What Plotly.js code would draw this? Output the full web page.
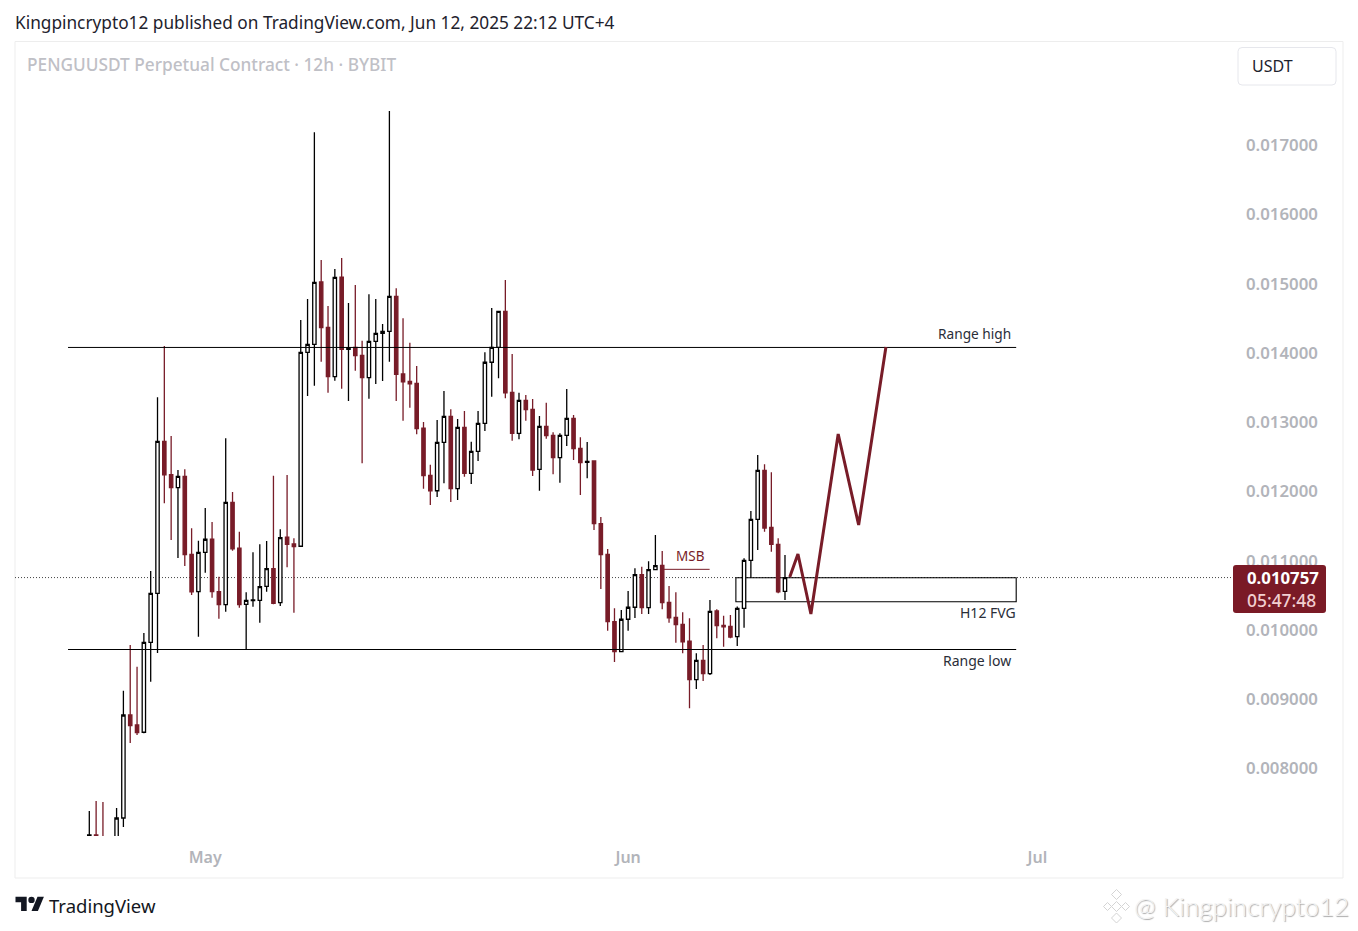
<!DOCTYPE html>
<html>
<head>
<meta charset="utf-8">
<script src="https://cdn.plot.ly/plotly-3.0.1.min.js"></script>
<style>html,body{margin:0;padding:0;background:#fff}#chart{width:1358px;height:931px}</style>
</head>
<body>
<div id="chart"></div>
<script>
// prices x 1e6, one entry per 12h bar
const opens = [6895,7040,6939,6900,6895,7285,8772,8628,8523,9822,10530,12725,12242,12055,12219,11093,10553,11122,11310,10553,10365,11844,11180,10371,10423,10429,10631,10885,10394,11339,11242,11209,14010,14125,15025,14371,13658,15097,14053,14082,13967,13643,14169,14284,14313,14819,13697,13591,13562,12913,12234,12011,12710,13086,12040,12927,12263,12580,12985,13866,14082,14602,13432,12840,13317,13187,12320,12941,12811,12488,12811,13057,12624,12421,12440,11535,11093,10120,9687,10155,10328,10799,10322,10871,10934,10400,10183,10082,9837,9282,9562,9369,10274,10067,10053,9903,10313,11006,11598,12306,11483,11237,10559];
const highs = [7386,7531,7516,6980,7429,9123,9783,9470,9957,10852,13360,14101,12801,12310,12320,11468,11289,11762,11559,10770,12768,11993,11419,10544,11122,11237,11285,12228,11454,12238,11324,14476,14779,17187,15343,14678,15213,15372,14722,14982,14177,14847,14779,14418,17494,14934,14501,14149,13812,13003,12387,13032,13451,13187,13047,13162,12719,13162,14010,14649,14610,15054,13985,13426,13393,13336,13090,13282,12855,12840,13480,13104,12782,12715,12440,11632,11170,10313,10289,10563,10891,10914,10992,11372,11141,10635,10544,10255,10169,9663,9783,10433,10299,10206,10217,10340,11035,11718,12527,12393,12277,11324,11083];
const lows = [6895,6895,6850,6800,6850,7155,8368,8484,8510,9253,9668,11829,11299,11040,10924,10505,9903,10827,10466,10163,10264,11145,10322,9718,10337,10105,10553,10371,10347,10905,10250,11200,13379,13528,13874,13426,13600,13484,13307,13744,12407,13340,13552,13595,13874,13307,13022,13210,12826,12040,11805,11920,12118,11848,11877,12214,12108,12440,12873,13369,13634,13345,12733,12754,13022,12224,12011,12762,12248,12127,12657,12455,11949,12190,11444,10592,9990,9538,9680,9990,10173,10231,10231,10866,10299,10105,9817,9663,8869,9148,9263,9350,9880,9759,9880,9769,10033,10755,11155,11419,11131,10530,10433];
const closes = [7040,6895,6850,6950,7285,8772,8618,8517,9822,10530,12725,12242,12055,12219,11087,10549,11122,11310,10553,10365,11844,11170,10365,10429,10433,10625,10885,10385,11333,11237,11203,14010,14125,15021,14365,13658,15093,14053,14076,13961,13643,14169,14284,14313,14819,13692,13585,13556,12907,12228,12011,12710,13086,12040,12927,12263,12580,12985,13866,14082,14602,13426,12840,13317,13181,12310,12941,12806,12488,12811,13057,12618,12416,12436,11535,11087,10120,9687,10155,10328,10799,10322,10871,10929,10394,10177,10076,9827,9282,9562,9369,10270,10062,10047,9899,10313,11006,11598,12306,11473,11237,10549,10757];

// analyst drawings, bar position + price x 1e6
const rangeHigh = 14080, rangeLow = 9718, lastPrice = 10757;
const levelBars = [-3.12, 135.9];
const msbBars = [83.8, 90.95], msbPrice = 10876;
const fvgBars = [94.8, 135.9], fvgTop = 10755, fvgBottom = 10408;
const pathBars = [102.7, 103.9, 105.8, 109.8, 112.8, 116.8];
const pathPrices = [10765, 11097, 10231, 12830, 11516, 14086];
const priceTicks = [8000,9000,10000,11000,12000,13000,14000,15000,16000,17000];
const priceLabels = ['0.008000','0.009000','0.010000','0.011000','0.012000','0.013000','0.014000','0.015000','0.016000','0.017000'];
const monthDates = ['2025-05-01','2025-06-01','2025-07-01'];
const monthLabels = ['May','Jun','Jul'];

const MAROON = '#781c28', W = 1358, H = 931;
const firstBar = Date.UTC(2025, 3, 22, 12);
const at = i => new Date(firstBar + i * 43200000).toISOString().slice(0, 19).replace('T', ' ');
const unit = v => v / 1e6;
const fx = p => p / W, fy = p => 1 - p / H;

const barDates = opens.map((_, i) => at(i));
const traces = [
  {type:'candlestick', x:barDates, open:opens.map(unit), high:highs.map(unit), low:lows.map(unit), close:closes.map(unit),
   increasing:{line:{color:'#000000',width:1.3},fillcolor:'#ffffff'},
   decreasing:{line:{color:MAROON,width:1.3},fillcolor:MAROON},
   whiskerwidth:0, hoverinfo:'skip', showlegend:false},
  {type:'scatter', mode:'lines', x:levelBars.map(at), y:[rangeHigh,rangeHigh].map(unit), line:{color:'#000',width:1}, hoverinfo:'skip', showlegend:false},
  {type:'scatter', mode:'lines', x:levelBars.map(at), y:[rangeLow,rangeLow].map(unit), line:{color:'#000',width:1}, hoverinfo:'skip', showlegend:false},
  {type:'scatter', mode:'lines', x:msbBars.map(at), y:[msbPrice,msbPrice].map(unit), line:{color:MAROON,width:1}, hoverinfo:'skip', showlegend:false},
  {type:'scatter', mode:'lines', x:pathBars.map(at), y:pathPrices.map(unit), line:{color:MAROON,width:3}, hoverinfo:'skip', showlegend:false}
];

const GREY = '#b2b4ba';
const ann = (text, x, y, anchor, font) => ({text, x:fx(x), y:fy(y), xref:'paper', yref:'paper', xanchor:anchor, yanchor:'middle', showarrow:false, font, borderpad:0, borderwidth:0});
const UI = '"Noto Sans", sans-serif';

const roundRect = (x0,y0,x1,y1,r) => {
  const P=(x,y)=>fx(x)+','+fy(y);
  return 'M'+P(x0+r,y0)+' L'+P(x1-r,y0)+' Q'+P(x1,y0)+' '+P(x1,y0+r)+' L'+P(x1,y1-r)+' Q'+P(x1,y1)+' '+P(x1-r,y1)+' L'+P(x0+r,y1)+' Q'+P(x0,y1)+' '+P(x0,y1-r)+' L'+P(x0,y0+r)+' Q'+P(x0,y0)+' '+P(x0+r,y0)+' Z';
};
const polyPath = pts => 'M' + pts.map(([x,y]) => fx(x)+','+fy(y)).join(' L') + ' Z';
const diamond = (cx,cy,r) => polyPath([[cx,cy-r],[cx+r,cy],[cx,cy+r],[cx-r,cy]]);
const paperShape = (o) => Object.assign({xref:'paper', yref:'paper', layer:'above'}, o);
const LX = 15.5, LY = 893.5, LS = 0.8;
const logoPt = (x,y)=>[LX+x*LS, LY+y*LS];

const shapes = [
  paperShape({type:'rect', x0:fx(15), x1:fx(1343), y0:fy(41.5), y1:fy(878), line:{color:'#ededed',width:1}, fillcolor:'rgba(0,0,0,0)', layer:'below'}),
  {type:'line', xref:'paper', yref:'y', x0:fx(15), x1:fx(1235), y0:unit(lastPrice), y1:unit(lastPrice), line:{color:'#444',width:1,dash:'1px,2px'}, layer:'below'},
  {type:'rect', xref:'x', yref:'y', x0:at(fvgBars[0]), x1:at(fvgBars[1]), y0:unit(fvgBottom), y1:unit(fvgTop), line:{color:'#000',width:1.1}, fillcolor:'rgba(0,0,0,0)', layer:'below'},
  paperShape({type:'path', path:roundRect(1238,47.5,1336,85,4), line:{color:'#e6e7ec',width:1}, fillcolor:'#fff'}),
  paperShape({type:'path', path:roundRect(1233,565,1326,613,3), line:{width:0}, fillcolor:'#7a1a26'}),
  paperShape({type:'path', path:polyPath([[14,4],[14,22],[7,22],[7,11],[0,11],[0,4]].map(p=>logoPt(...p))), line:{width:0}, fillcolor:'#131722'}),
  paperShape({type:'path', path:polyPath([[27.5,4],[35.5,4],[28,22],[20,22]].map(p=>logoPt(...p))), line:{width:0}, fillcolor:'#131722'}),
  paperShape({type:'circle', x0:fx(logoPt(16,4)[0]), x1:fx(logoPt(24,4)[0]), y0:fy(logoPt(0,4)[1]), y1:fy(logoPt(0,12)[1]), line:{width:0}, fillcolor:'#131722'}),
  paperShape({type:'path', path:diamond(1116.5,894.5,5), line:{color:'#d4d4d4',width:1}, fillcolor:'#fff'}),
  paperShape({type:'path', path:diamond(1116.5,906.5,5), line:{color:'#d4d4d4',width:1}, fillcolor:'#fff'}),
  paperShape({type:'path', path:diamond(1116.5,918,5), line:{color:'#d4d4d4',width:1}, fillcolor:'#fff'}),
  paperShape({type:'path', path:diamond(1107.5,906.5,4), line:{color:'#d4d4d4',width:1}, fillcolor:'#fff'}),
  paperShape({type:'path', path:diamond(1125.5,906.5,4), line:{color:'#d4d4d4',width:1}, fillcolor:'#fff'})
];

const annotations = [
  ann('Kingpincrypto12 published on TradingView.com, Jun 12, 2025 22:12 UTC+4', 15, 22, 'left', {family:UI,size:17.25,color:'#1e222d'}),
  ann('PENGUUSDT Perpetual Contract · 12h · BYBIT', 27, 64, 'left', {family:UI,size:17.25,color:'#bfc0c6',weight:500}),
  ann('USDT', 1252, 65.5, 'left', {family:UI,size:16,color:'#1e222d'}),
  ann('Range high', 1011, 333.5, 'right', {family:UI,size:13.7,color:'#2a2e39'}),
  ann('Range low', 1011, 660.5, 'right', {family:UI,size:14,color:'#2a2e39'}),
  ann('H12 FVG', 1016, 612.5, 'right', {family:UI,size:14,color:'#2a2e39'}),
  ann('MSB', 690.5, 555.5, 'center', {family:UI,size:13.5,color:MAROON}),
  ann('0.010757', 1282.5, 577.5, 'center', {family:UI,size:16.8,color:'#ffffff',weight:700}),
  ann('05:47:48', 1281, 600, 'center', {family:UI,size:17.4,color:'#f2cfd0',weight:500}),
  ann('TradingView', 49, 905, 'left', {family:UI,size:18.5,color:'#131722'}),
  ann('@ Kingpincrypto12', 1134, 906, 'left', {family:'Lato, sans-serif',size:26,color:'#f3f3f3',weight:300,shadow:'1px 1px 1px #a8a8a8'})
];

Plotly.newPlot('chart', traces, {
  width:W, height:H, margin:{l:0,r:0,t:0,b:0}, paper_bgcolor:'#fff', plot_bgcolor:'rgba(0,0,0,0)',
  showlegend:false, hovermode:false, shapes, annotations,
  xaxis:{domain:[fx(15),fx(1235)], range:[at(-10.894),at(167.98)], type:'date', rangeslider:{visible:false},
    tickmode:'array', tickvals:monthDates, ticktext:monthLabels, ticks:'', showgrid:false, zeroline:false, showline:false,
    ticklabelstandoff:10, automargin:false, tickfont:{family:UI,size:16,color:GREY,weight:600}},
  yaxis:{domain:[fy(836),fy(42)], range:[7025e-6,18491e-6], side:'right', tickmode:'array', tickvals:priceTicks.map(unit), ticktext:priceLabels,
    ticks:'', showgrid:false, zeroline:false, showline:false, ticklabelstandoff:10, automargin:false, tickfont:{family:UI,size:16.8,color:GREY,weight:600}}
}, {displayModeBar:false, staticPlot:true});
</script>
</body>
</html>
